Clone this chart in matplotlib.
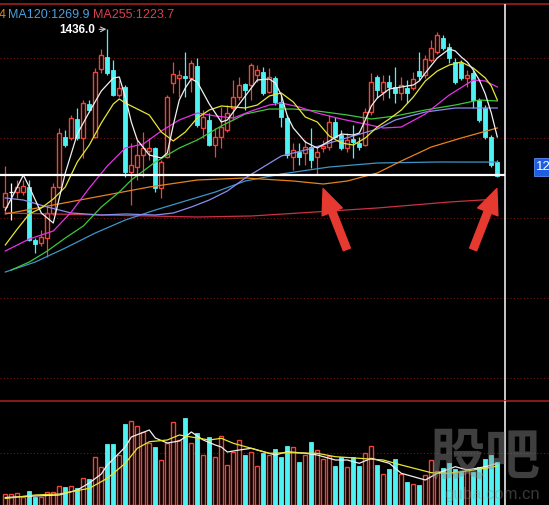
import matplotlib
matplotlib.use('Agg')
import matplotlib.pyplot as plt
from matplotlib.patches import FancyArrowPatch, Rectangle
import numpy as np

plt.rcParams['font.family'] = ['Liberation Sans', 'Noto Sans CJK SC', 'DejaVu Sans']

# K线数据
opens = [1213.75, 1233, 1232.5, 1232.5, 1238.75, 1172.5, 1168.75, 1175, 1206.25, 1238.75,
         1301.25, 1300, 1323.75, 1300, 1342.5, 1301.25, 1386.25, 1401.25, 1385, 1353.75,
         1363.75, 1257.5, 1263.75, 1278.75, 1283.75, 1287.5, 1237.5, 1276.25, 1368.75, 1375,
         1377.5, 1375, 1390, 1312.5, 1322.5, 1291.25, 1301.25, 1310, 1337.5, 1351.25,
         1367.5, 1366.25, 1378.75, 1382.5, 1357.5, 1375, 1345, 1325, 1276.25, 1282.5,
         1281.25, 1288.75, 1276.25, 1287.5, 1288.75, 1320, 1303.75, 1287.5, 1298.75, 1293.75,
         1291.25, 1332.5, 1376.25, 1357.5, 1370, 1363.75, 1356.25, 1362.5, 1362.5, 1383.75,
         1378.75, 1397.5, 1407.5, 1425, 1413.75, 1395, 1393.75, 1375, 1381.25, 1347.5,
         1337.5, 1301.25, 1270]
highs = [1265, 1243.75, 1247.5, 1247.5, 1247.5, 1175, 1185, 1216.25, 1243.75, 1312.5,
         1310, 1328.75, 1337.5, 1347.5, 1347.5, 1387.5, 1411.25, 1436.0, 1397.5, 1372.5,
         1366.25, 1293.75, 1297.5, 1307.5, 1300, 1288.75, 1272.5, 1353.75, 1395, 1385,
         1407.5, 1397.5, 1400, 1335, 1331.25, 1312.5, 1338.75, 1341.25, 1372.5, 1376.25,
         1368.75, 1393.75, 1391.25, 1388.75, 1387.5, 1377.5, 1353.75, 1328.75, 1293.75, 1293.75,
         1297.5, 1312.5, 1288.75, 1297.5, 1328.75, 1326.25, 1310, 1306.25, 1316.25, 1301.25,
         1337.5, 1381.25, 1378.75, 1378.75, 1378.75, 1388.75, 1376.25, 1372.5, 1382.5, 1407.5,
         1403.75, 1422.5, 1432.5, 1428.75, 1418.75, 1400, 1397.5, 1385, 1385, 1350,
         1341.25, 1303.75, 1272.5]
lows = [1206.25, 1197.5, 1225, 1228.75, 1171.25, 1156.25, 1165, 1151.25, 1203.75, 1237.5,
        1288.75, 1297.5, 1297.5, 1275, 1332.5, 1300, 1381.25, 1378.75, 1352.5, 1351.25,
        1251.25, 1216.25, 1247.5, 1251.25, 1272.5, 1232.5, 1225, 1275, 1356.25, 1351.25,
        1351.25, 1357.5, 1313.75, 1300, 1290, 1276.25, 1287.5, 1307.5, 1322.5, 1347.5,
        1335, 1347.5, 1370, 1353.75, 1356.25, 1341.25, 1313.75, 1275, 1260, 1266.25,
        1266.25, 1262.5, 1253.75, 1282.5, 1285, 1300, 1285, 1282.5, 1275, 1285,
        1290, 1328.75, 1350, 1347.5, 1350, 1343.75, 1347.5, 1343.75, 1360, 1372.5,
        1375, 1395, 1405, 1410, 1393.75, 1367.5, 1372.5, 1363.75, 1337.5, 1320,
        1298.75, 1263.75, 1251.25]
closes = [1231.25, 1233, 1238.75, 1240, 1172.5, 1167.5, 1176.25, 1206.25, 1238.75, 1306.25,
          1291.25, 1325, 1300, 1343.75, 1335, 1382.5, 1403.75, 1381.25, 1353.75, 1362.5,
          1257.5, 1266.25, 1278.75, 1287.5, 1287.5, 1237.5, 1270, 1351.25, 1380, 1378.75,
          1375, 1393.75, 1316.25, 1326.25, 1291.25, 1301.25, 1313.75, 1331.25, 1351.25, 1366.25,
          1360, 1391.25, 1385, 1356.25, 1376.25, 1345, 1326.25, 1278.75, 1285, 1276.25,
          1288.75, 1272.5, 1282.5, 1290, 1320, 1301.25, 1287.5, 1297.5, 1295, 1288.75,
          1332.5, 1370, 1360, 1370, 1363.75, 1356.25, 1366.25, 1356.25, 1373.75, 1377.5,
          1398.75, 1412.5, 1428.75, 1412.5, 1400, 1370, 1375, 1378.75, 1347.5, 1322.5,
          1301.25, 1266.25, 1252.5]
volumes = [10.7, 10.7, 11.7, 8.3, 14, 8.3, 8.3, 12.7, 12.7, 19,
           17.7, 19, 16.7, 26.7, 26, 47.7, 37.7, 61, 61, 50,
           81, 84, 79, 73, 61.7, 57.7, 45, 61.7, 82.7, 65,
           87.3, 61.7, 71.7, 50, 67.7, 47.7, 69, 40, 53.3, 65,
           50, 53.3, 39, 51.7, 50, 56, 47.7, 59, 57.7, 43.3,
           50, 63.3, 55, 46, 49, 39, 47.7, 38.3, 47.7, 39,
           52.3, 59, 40, 31, 36, 46, 31, 23.3, 21, 20,
           30, 45, 34.3, 36.7, 41.7, 35.7, 33.3, 35.7, 33.3, 38.3,
           45.7, 50, 43.3]

# 均线 (读图采样)
ma5_idx = [0, 2, 3, 4, 6, 8, 10, 12, 14, 16, 18, 19, 20, 21, 22, 24, 26, 27, 28, 29, 30, 31, 32, 34,
           36, 37, 38, 40, 42, 44, 45, 46, 47, 48, 50, 52, 54, 56, 58, 59, 60, 61, 62, 64, 66, 68,
           69, 70, 72, 74, 75, 76, 77, 78, 79, 80, 81, 82]
ma5 = [1210, 1238.75, 1253.75, 1238.75, 1206.25, 1193.75, 1256.25, 1305, 1332.5, 1358.75, 1375,
       1376.25, 1351.25, 1320, 1297.5, 1278.75, 1275, 1281.25, 1316.25, 1347.5, 1362.5, 1373.75,
       1370, 1342.5, 1320, 1322.5, 1332.5, 1352.5, 1372.5, 1373.75, 1368.75, 1353.75, 1327.5,
       1312.5, 1295, 1287.5, 1296.25, 1305, 1303.75, 1306.25, 1322.5, 1340, 1350, 1361.25,
       1363.75, 1366.25, 1371.25, 1381.25, 1400, 1411.25, 1408.75, 1401.25, 1395, 1385, 1372.5,
       1355, 1331.25, 1301.25]
ma10_idx = [0, 2, 4, 6, 8, 10, 12, 14, 16, 18, 19, 20, 22, 24, 26, 28, 30, 32, 34, 36, 38, 40, 42,
            44, 46, 48, 50, 52, 54, 56, 58, 60, 62, 64, 66, 68, 70, 72, 74, 76, 78, 80, 81, 82]
ma10 = [1166.25, 1186.25, 1205, 1212.5, 1223.75, 1238.75, 1270, 1291.25, 1318.75, 1342.5, 1348.75,
        1343.75, 1336.25, 1328.75, 1307.5, 1296.25, 1307.5, 1325, 1335, 1340, 1338.75, 1337.5,
        1341.25, 1352.5, 1356.25, 1345, 1326.25, 1320, 1302.5, 1293.75, 1291.25, 1300, 1313.75,
        1323.75, 1335, 1351.25, 1371.25, 1383.75, 1391.25, 1395, 1387.5, 1375, 1365, 1347.5]
ma20_idx = [0, 4, 8, 11, 14, 17, 20, 23, 26, 29, 32, 35, 38, 41, 44, 46, 49, 52, 56, 60, 63, 66,
            70, 74, 78, 80, 82]
ma20 = [1158.75, 1173.75, 1183.75, 1207.5, 1237.5, 1265, 1287.5, 1292.5, 1308.75, 1322.5, 1331.25,
        1327.5, 1325, 1333.75, 1341.25, 1343.75, 1338.75, 1331.25, 1323.75, 1317.5, 1312.5,
        1313.75, 1330, 1353.75, 1372.5, 1371.25, 1363.75]
ma30_idx = [1, 4, 7, 10, 13, 16, 19, 21, 25, 29, 32, 36, 40, 44, 48, 52, 57, 61, 65, 70, 75, 79, 82]
ma30 = [1135, 1145, 1158.75, 1175, 1190, 1213.75, 1232.5, 1247.5, 1270, 1287.5, 1297.5, 1315,
        1330, 1336.25, 1336.25, 1333.75, 1328.75, 1323.75, 1327.5, 1335, 1341.25, 1347.5, 1346.25]
ma60_idx = [0, 3, 7, 11, 16, 20, 25, 28, 31, 34, 37, 40, 43, 46, 50, 54, 58, 62, 65, 70, 75, 82]
ma60 = [1225, 1222.5, 1213.75, 1206.25, 1203.75, 1205, 1203.75, 1206.25, 1213.75, 1222.5, 1233.75,
        1250, 1263.75, 1277.5, 1285, 1293.75, 1302.5, 1311.25, 1322.5, 1332.5, 1337.5, 1337.5]
ma90_idx = [0, 8, 16, 24, 32, 40, 48, 53, 57, 62, 66, 71, 76, 82]
ma90 = [1205, 1216.25, 1227.5, 1238.75, 1247.5, 1250, 1246.25, 1242.5, 1246.25, 1256.25, 1271.25,
        1288.75, 1300, 1312.5]
ma120_idx = [0, 5, 10, 15, 20, 25, 30, 35, 40, 46, 54, 62, 72, 82]
ma120 = [1132.5, 1145, 1162.5, 1181.25, 1197.5, 1210, 1221.25, 1232.5, 1246.25, 1255, 1263.75,
         1268.75, 1270, 1269.9]
ma255_idx = [0, 16, 32, 41, 49, 62, 74, 82]
ma255 = [1206.25, 1203.75, 1201.25, 1202.5, 1206.25, 1212.5, 1220, 1223.7]

vma5_idx = [0, 3, 9, 12, 14, 16, 17, 20, 21, 24, 25, 27, 29, 30, 31, 33, 35, 36, 37, 39, 41, 43, 45,
            47, 50, 52, 55, 57, 59, 61, 64, 66, 70, 72, 75, 77, 80, 82]
vma5 = [7.5, 8.5, 10, 15, 22, 31, 40, 58, 68, 75, 67, 62, 64, 68, 73, 65, 60, 58, 53, 55, 56.7, 53.3,
        50, 53.3, 51.7, 50, 45, 45, 41.7, 46.7, 41.7, 31.7, 25, 31.7, 38.3, 35, 38.3, 41.7]
vma10_idx = [0, 5, 9, 14, 17, 20, 22, 24, 27, 29, 31, 34, 36, 38, 41, 44, 47, 52, 55, 59, 63, 66,
             71, 74, 76, 80, 82]
vma10 = [6.5, 10, 11, 16.7, 26.7, 41.7, 56.7, 63.3, 65, 70, 68, 65, 66.7, 61.7, 56.7, 51.7, 52.3,
         51.7, 48.3, 46.7, 45, 40, 32.3, 31.7, 33.3, 36.7, 39]

ma_value_text = ['MA120:1269.9', 'MA255:1223.7']
high_label = '1436.0'
cursor_price = 1253.75

UP = '#f04438'
DOWN = '#4ef2f2'
GRID = '#7a1414'

fig = plt.figure(figsize=(5.49, 5.05), dpi=100, facecolor='black')
ax = fig.add_axes([0, 104 / 505, 1, 397 / 505], facecolor='black')
axv = fig.add_axes([0, 0, 1, 104 / 505], facecolor='black')

x = np.arange(len(opens))
o = np.array(opens); h = np.array(highs); l = np.array(lows); c = np.array(closes)
up = c > o
down = c < o
flat = c == o

# 网格线
for lvl in [1000, 1100, 1200, 1300, 1400]:
    ax.axhline(lvl, color=GRID, lw=0.8, ls=(0, (1, 2)), zorder=0)
axv.axhline(52, color=GRID, lw=0.8, ls=(0, (1, 2)), zorder=0)

# K线
w = 0.72
top = np.maximum(o, c); bot = np.minimum(o, c)
ax.vlines(x[down], l[down], h[down], color=DOWN, lw=0.9, zorder=2)
ax.bar(x[down], (o - c)[down], bottom=c[down], width=w, color=DOWN, edgecolor=DOWN, lw=0.6, zorder=3)
ax.vlines(x[up], top[up], h[up], color=UP, lw=0.9, zorder=2)
ax.vlines(x[up], l[up], bot[up], color=UP, lw=0.9, zorder=2)
ax.bar(x[up], (c - o)[up], bottom=o[up], width=w, facecolor='black', edgecolor=UP, lw=1.0, zorder=3)
ax.vlines(x[flat], l[flat], h[flat], color='white', lw=0.9, zorder=2)
ax.hlines(c[flat], x[flat] - w / 2, x[flat] + w / 2, color='white', lw=0.9, zorder=3)

# 均线
lw_ma = 0.9
ax.plot(ma255_idx, ma255, color='#c83246', lw=lw_ma, zorder=4)
ax.plot(ma120_idx, ma120, color='#3c96c8', lw=lw_ma, zorder=4)
ax.plot(ma90_idx, ma90, color='#e6821e', lw=lw_ma, zorder=4)
ax.plot(ma60_idx, ma60, color='#8c8cf0', lw=lw_ma, zorder=4)
ax.plot(ma30_idx, ma30, color='#3cc83c', lw=lw_ma, zorder=4)
ax.plot(ma20_idx, ma20, color='#e632e6', lw=lw_ma, zorder=4)
ax.plot(ma10_idx, ma10, color='#e6e632', lw=lw_ma, zorder=4)
ax.plot(ma5_idx, ma5, color='#f0f0f0', lw=lw_ma, zorder=4)

# 成交量
v = np.array(volumes)
vdown = c < o
axv.bar(x[vdown], v[vdown], width=w, color=DOWN, edgecolor=DOWN, lw=0.6, zorder=2)
axv.bar(x[~vdown], v[~vdown], width=w, facecolor='black', edgecolor=UP, lw=1.0, zorder=2)
axv.plot(vma5_idx, vma5, color='#f0f0f0', lw=0.9, zorder=3)
axv.plot(vma10_idx, vma10, color='#e6e632', lw=0.9, zorder=3)

for a in (ax, axv):
    a.set_xlim(-0.883, 90.617)
    a.set_xticks([]); a.set_yticks([])
    for s in a.spines.values():
        s.set_visible(False)
    a.spines['top'].set_visible(True)
    a.spines['top'].set_color('#a01e1e')
    a.spines['top'].set_linewidth(1.2)
ax.set_ylim(971.25, 1467.5)
axv.set_ylim(0, 104)

# 十字光标
cx = 83.3
ax.axvline(cx, color='white', lw=1.1, zorder=6)
axv.axvline(cx, color='white', lw=1.1, zorder=6)
ax.hlines(cursor_price, -0.883, cx, color='white', lw=1.6, zorder=6)
fig.add_artist(Rectangle((534 / 549, (505 - 176) / 505), 20 / 549, 18 / 505,
                         transform=fig.transFigure, facecolor='#1e5ee0', edgecolor='#5a8cf0', lw=0.6))
fig.text(536 / 549, (505 - 167) / 505, '1253.7', color='white', fontsize=9.5, va='center', ha='left')

# 图例文字
ax.text(-0.002, 0.972, '4', color='#e6821e', fontsize=9, transform=ax.transAxes, va='center', ha='left')
ax.text(8 / 549, 0.972, ma_value_text[0], color='#4aa0e0', fontsize=9, transform=ax.transAxes, va='center', ha='left')
ax.text(93 / 549, 0.972, ma_value_text[1], color='#d84050', fontsize=9, transform=ax.transAxes, va='center', ha='left')

# 最高价标注
ax.annotate(high_label, xy=(16.85, 1436.0), xytext=(14.95, 1435), ha='right', va='center',
            color='white', fontsize=8.5, fontweight='bold',
            arrowprops=dict(arrowstyle='->', color='#c8c8c8', lw=0.8, shrinkA=1, shrinkB=0), zorder=7)

# 红色箭头
for tail, tip in [((57.1, 1157.5), (52.8, 1240)), ((77.8, 1157.5), (82.1, 1240))]:
    arr = FancyArrowPatch(tail, tip, arrowstyle='simple,head_length=1.5,head_width=1.3,tail_width=0.45',
                          mutation_scale=12, color='#e63a30', zorder=8)
    ax.add_patch(arr)

# 水印
fig.text(485 / 549, (505 - 458) / 505, '股吧', fontsize=40, color='#8c8c8c', alpha=0.45,
         family=['Noto Sans CJK SC'], fontweight='bold', ha='center', va='center', zorder=10)
fig.text(492 / 549, (505 - 494) / 505, 'guba.com.cn', fontsize=12, color='#8c8c8c', alpha=0.4,
         ha='center', va='center', zorder=10)

fig.savefig('out.png', dpi=100, facecolor='black')
